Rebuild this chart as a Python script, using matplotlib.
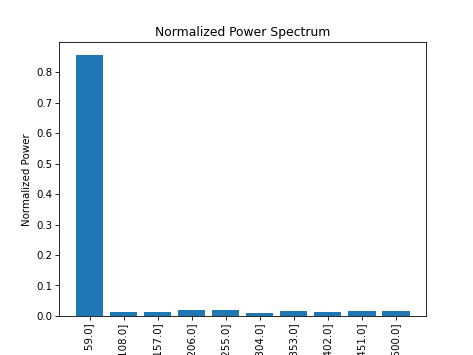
import matplotlib
matplotlib.use("Agg")
import matplotlib.pyplot as plt

categories = ["(10.0, 59.0]", "(59.0, 108.0]", "(108.0, 157.0]", "(157.0, 206.0]",
              "(206.0, 255.0]", "(255.0, 304.0]", "(304.0, 353.0]", "(353.0, 402.0]",
              "(402.0, 451.0]", "(451.0, 500.0]"]
values = [0.855, 0.012, 0.012, 0.019, 0.021, 0.010, 0.016, 0.014, 0.016, 0.016]

fig, ax = plt.subplots(figsize=(6.4, 4.8), dpi=74)
ax.bar(range(len(categories)), values, color="#1f77b4")
ax.set_xticks(range(len(categories)))
ax.set_xticklabels(categories, rotation=90)
ax.set_title("Normalized Power Spectrum")
ax.set_ylabel("Normalized Power")
fig.savefig("out.png", dpi=74)
